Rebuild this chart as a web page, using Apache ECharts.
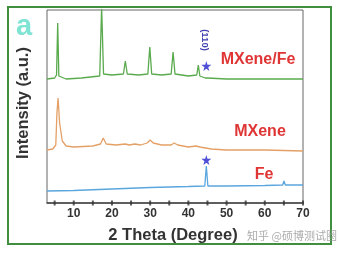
<!DOCTYPE html>
<html><head><meta charset="utf-8">
<script src="https://cdn.jsdelivr.net/npm/echarts@6/dist/echarts.min.js"></script>
<style>html,body{margin:0;padding:0;background:#fff}#c{width:338px;height:254px}</style>
</head><body><div id="c"></div>
<script>
var xTicks = [10, 20, 30, 40, 50, 60, 70];
var xTickMarks = [5, 10, 15, 20, 25, 30, 35, 40, 45, 50, 55, 60, 65, 70];
var feX = [3, 10, 20, 30, 40, 44.3, 44.7, 45.1, 50, 60, 64.7, 65.0, 65.4, 70];
var feY = [12, 12.5, 14, 15.5, 16.5, 17, 37, 17, 17, 17.5, 18, 22, 18, 18];
var mxX = [3, 4.5, 5.3, 5.6, 5.9, 6.3, 7, 8, 10, 15, 17.0, 17.7, 18.5, 21, 23.5, 24.5, 26, 27.5, 29.2, 30.0, 30.8, 33, 35.5, 36.3, 37.2, 40, 42.0, 43, 46, 50, 60, 70];
var mxY = [53, 54, 58, 90, 105, 80, 62, 57, 56, 57, 59, 65, 59, 58, 59, 58, 59, 58, 60, 63, 60, 58, 58, 60, 58, 56, 57, 56, 54, 53, 53, 52];
var mfX = [3, 5, 5.5, 5.8, 6.1, 8, 12, 16.8, 17.3, 17.8, 20, 23.0, 23.5, 24.0, 27, 29.4, 29.9, 30.4, 33, 35.5, 36.0, 36.5, 40, 42.2, 42.6, 43.0, 44.4, 44.7, 45.0, 50, 55, 60, 65, 70];
var mfY = [124, 125, 128, 180, 127, 124, 125, 127, 196, 129, 128, 129, 142, 129, 128, 129, 156, 129, 128, 129, 151, 129, 127, 128, 138, 127, 125, 127, 125, 124, 124, 124, 124, 124];
var stars = [[44.7, 43], [44.7, 137]];
var seriesNames = ['MXene/Fe', 'MXene', 'Fe'];

function pairs(xs, ys) { return xs.map(function (x, i) { return [x, ys[i]]; }); }
var starPath = 'path://M50,0 L61,35 L98,35 L68,57 L79,91 L50,70 L21,91 L32,57 L2,35 L39,35 Z';

var chart = echarts.init(document.getElementById('c'));
chart.setOption({
  animation: false,
  grid: { left: 47, right: 35, top: 10, bottom: 51, show: true, borderColor: '#666', borderWidth: 1, backgroundColor: 'transparent' },
  xAxis: [{
    type: 'value', min: 3, max: 70,
    axisLine: { show: true, onZero: false, lineStyle: { color: '#444', width: 1.5 } },
    axisTick: { show: false },
    axisLabel: { customValues: xTicks, fontFamily: 'Liberation Sans', fontWeight: 'bold', fontSize: 12, color: '#333', margin: 5 },
    splitLine: { show: false }
  }],
  yAxis: {
    type: 'value', min: 0, max: 193, show: true,
    axisLine: { show: false }, axisTick: { show: false }, axisLabel: { show: false }, splitLine: { show: false }
  },
  series: [
    { name: seriesNames[0], type: 'line', data: pairs(mfX, mfY), showSymbol: false, clip: true, lineStyle: { color: '#5aaa4e', width: 1.3 } },
    { name: seriesNames[1], type: 'line', data: pairs(mxX, mxY), showSymbol: false, lineStyle: { color: '#e4a066', width: 1.3 } },
    { name: seriesNames[2], type: 'line', data: pairs(feX, feY), showSymbol: false, lineStyle: { color: '#5aa6de', width: 1.3 } },
    { type: 'scatter', data: stars, symbol: starPath, symbolSize: 10, itemStyle: { color: '#2222cc' }, z: 5 },
    { type: 'scatter', data: xTickMarks.map(function (v) { return [v, 0]; }), symbol: 'rect', symbolSize: [2, 5], itemStyle: { color: '#333' }, clip: true, silent: true, z: 6 }
  ],
  graphic: [
    { type: 'rect', shape: { x: 8, y: 7, width: 323, height: 237 }, style: { fill: 'none', stroke: '#3f8f3f', lineWidth: 2 }, z: -1 },
    { type: 'text', x: 16, y: 12, style: { text: 'a', font: 'bold 29px "Liberation Sans"', fill: '#7fe4d4' } },
    { type: 'text', x: 23, y: 103, rotation: Math.PI / 2, style: { text: 'Intensity (a.u.)', font: 'bold 16.5px "Liberation Sans"', fill: '#333', align: 'center', verticalAlign: 'middle' } },
    { type: 'text', x: 173, y: 235, style: { text: '2 Theta (Degree)', font: 'bold 16.5px "Liberation Sans"', fill: '#333', align: 'center', verticalAlign: 'middle' } },
    { type: 'text', x: 258, y: 60, style: { text: 'MXene/Fe', font: 'bold 16px "Liberation Sans"', fill: '#e03535', align: 'center', verticalAlign: 'middle' } },
    { type: 'text', x: 260, y: 132, style: { text: 'MXene', font: 'bold 16px "Liberation Sans"', fill: '#e03535', align: 'center', verticalAlign: 'middle' } },
    { type: 'text', x: 264, y: 175, style: { text: 'Fe', font: 'bold 16px "Liberation Sans"', fill: '#e03535', align: 'center', verticalAlign: 'middle' } },
    { type: 'text', x: 205, y: 40, rotation: -Math.PI / 2, style: { text: '(110)', font: 'bold 9.5px "Liberation Sans"', fill: '#4040b0', align: 'center', verticalAlign: 'middle' } },
    { type: 'text', x: 292, y: 236, style: { text: '知乎 @硕博测试圈', font: '11px "Noto Sans CJK SC"', fill: 'rgba(150,150,150,0.8)', align: 'center', verticalAlign: 'middle' } }
  ]
});
</script></body></html>
